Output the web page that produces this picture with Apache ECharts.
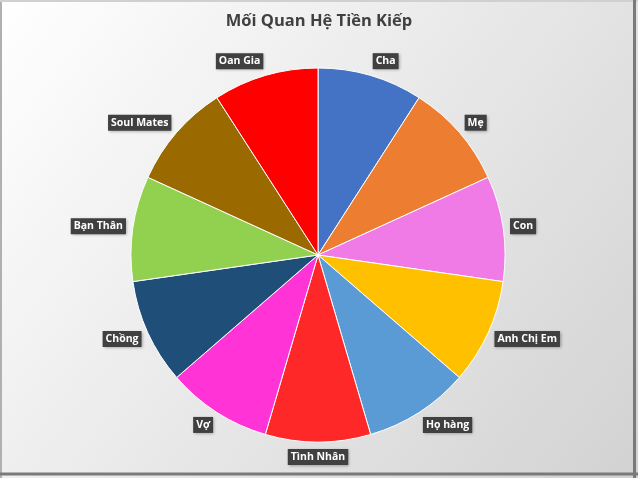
<!DOCTYPE html>
<html>
<head>
<meta charset="utf-8">
<script src="https://cdn.jsdelivr.net/npm/echarts@6/dist/echarts.min.js"></script>
<style>
  html, body { margin: 0; padding: 0; }
  #chart { width: 638px; height: 478px; }
</style>
</head>
<body>
<div id="chart"></div>
<script>
// các mối quan hệ, chia đều
var categories = ['Cha', 'Mẹ', 'Con', 'Anh Chị Em', 'Họ hàng', 'Tình Nhân', 'Vợ', 'Chồng', 'Bạn Thân', 'Soul Mates', 'Oan Gia'];
var values = [1, 1, 1, 1, 1, 1, 1, 1, 1, 1, 1];
var colors = ['#4472C4', '#ED7D31', '#F07AE6', '#FFC000', '#5B9BD5', '#FF2828', '#FF33D6', '#1F4E79', '#92D050', '#9A6A00', '#FF0000'];

var cx = 318, cy = 255, R = 187;
var total = values.reduce(function (a, b) { return a + b; }, 0);

var pieData = categories.map(function (name, i) {
  return { name: name, value: values[i], itemStyle: { color: colors[i] } };
});

// nhãn kiểu Excel: góc hộp nhãn bám vào điểm ngoài mép bánh
function placeLabel(params) {
  var cum = 0;
  for (var k = 0; k < params.dataIndex; k++) cum += values[k];
  var a = (90 - 360 * (cum + values[params.dataIndex] / 2) / total) * Math.PI / 180;
  var c = Math.cos(a), s = Math.sin(a);
  var w = params.labelRect.width, h = params.labelRect.height;
  var px = cx + (R + 7) * c, py = cy - (R + 7) * s;
  var sx = Math.abs(c) < 0.01 ? 0 : (c > 0 ? 1 : -1);
  return {
    x: px + sx * w / 2,
    y: py - s * h / 2,
    align: 'center',
    verticalAlign: 'middle'
  };
}

var chart = echarts.init(document.getElementById('chart'));
chart.setOption({
  backgroundColor: {
    type: 'linear', x: 0, y: 0, x2: 1, y2: 1,
    colorStops: [
      { offset: 0, color: '#ffffff' },
      { offset: 1, color: '#d2d2d2' }
    ]
  },
  title: {
    text: 'Mối Quan Hệ Tiền Kiếp',
    left: 'center',
    top: 8,
    textStyle: {
      fontFamily: 'Open Sans',
      fontSize: 16.5,
      fontWeight: 'bold',
      color: '#404040'
    }
  },
  graphic: [
    { type: 'line', shape: { x1: 1, y1: 0, x2: 1, y2: 478 }, style: { stroke: '#b0b0b0', lineWidth: 2 } },
    { type: 'line', shape: { x1: 0, y1: 1, x2: 638, y2: 1 }, style: { stroke: '#d0d0d0', lineWidth: 2 } },
    { type: 'line', shape: { x1: 634.5, y1: 0, x2: 634.5, y2: 478 }, style: { stroke: '#7a7a7a', lineWidth: 3 } },
    { type: 'line', shape: { x1: 0, y1: 474, x2: 638, y2: 474 }, style: { stroke: '#7a7a7a', lineWidth: 3 } }
  ],
  series: [
    {
      type: 'pie',
      center: [cx, cy],
      radius: [0, R],
      startAngle: 90,
      clockwise: true,
      silent: true,
      itemStyle: { borderColor: '#ffffff', borderWidth: 1 },
      labelLine: { show: false },
      label: {
        show: true,
        position: 'outside',
        formatter: '{b}',
        color: '#ffffff',
        fontFamily: 'Open Sans',
        fontWeight: 'bold',
        fontSize: 10.5,
        lineHeight: 12,
        backgroundColor: '#404040',
        padding: [2, 3, 2, 3],
        shadowColor: 'rgba(0,0,0,0.35)',
        shadowBlur: 3,
        shadowOffsetX: 1,
        shadowOffsetY: 1
      },
      labelLayout: placeLabel,
      data: pieData
    }
  ]
});
</script>
</body>
</html>
